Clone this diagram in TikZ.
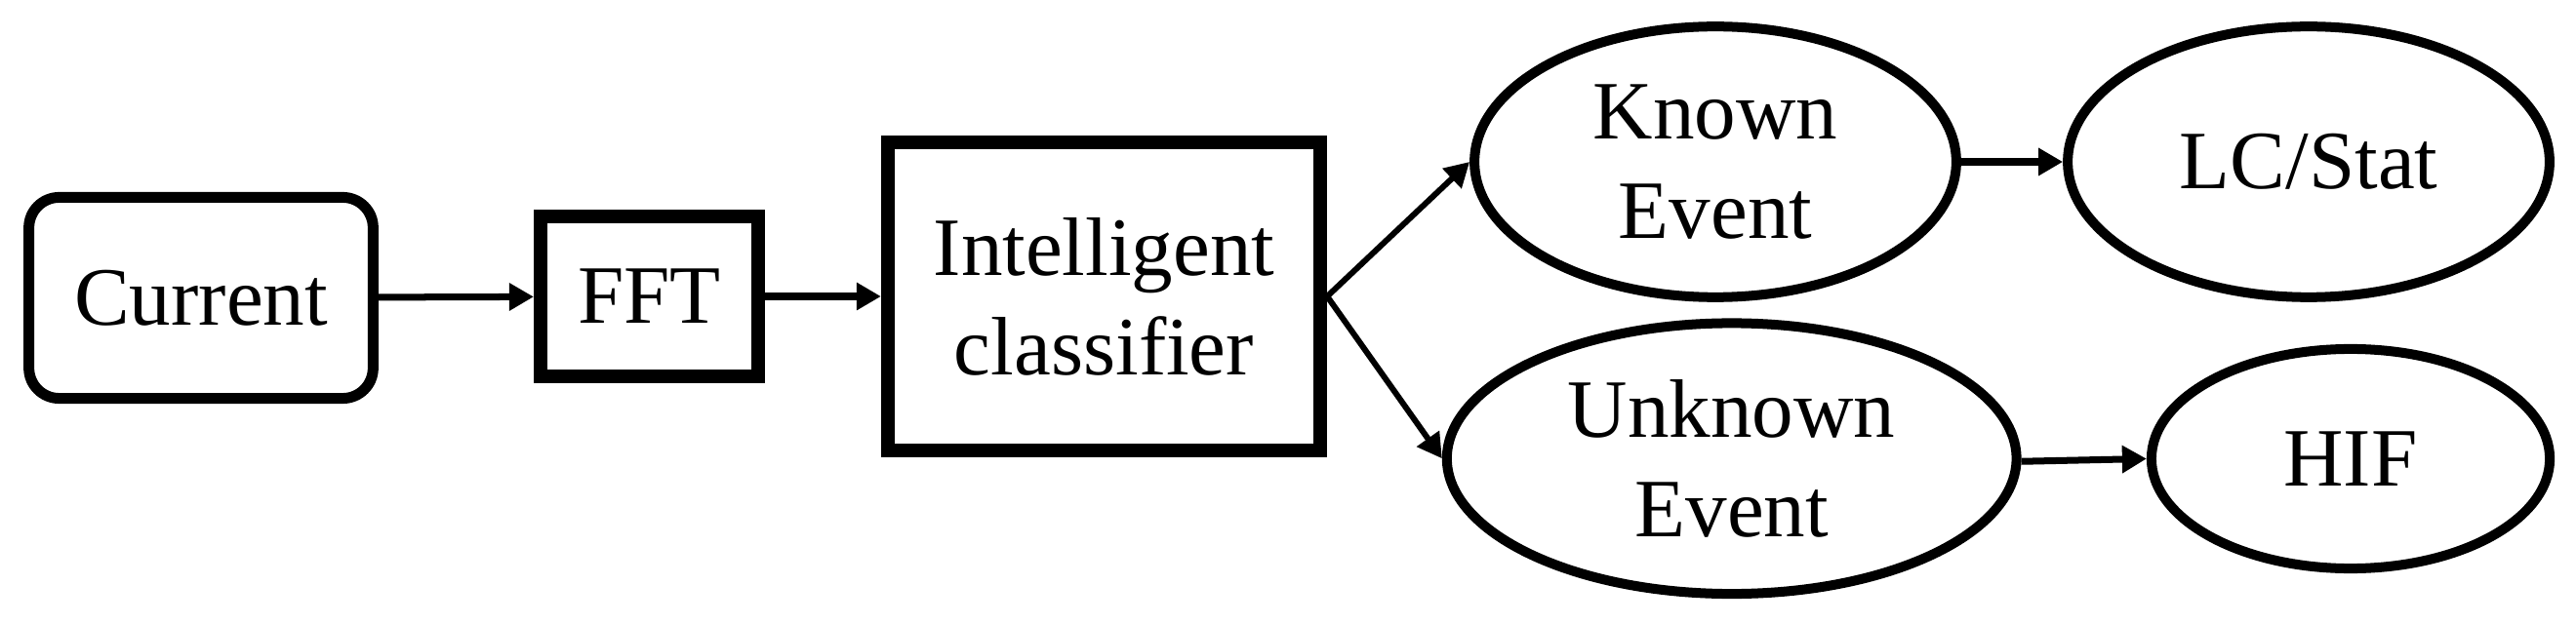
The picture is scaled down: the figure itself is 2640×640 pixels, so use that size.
\documentclass[tikz,border=0pt]{standalone}
\usepackage{fontspec}
\setmainfont{Liberation Serif}
\usetikzlibrary{arrows.meta,shapes.geometric}
\begin{document}
\begin{tikzpicture}[x=0.01cm,y=-0.01cm,
  every node/.style={font=\fontsize{24.19pt}{29.03pt}\selectfont, inner sep=0pt, align=center},
  boxnode/.style={draw, rectangle, line width=0.14cm},
  roundnode/.style={draw, rectangle, rounded corners=0.31cm, line width=0.11cm},
  ellnode/.style={draw, ellipse, line width=0.10cm},
  arr/.style={-{Triangle[length=0.25cm,width=0.27cm]}, line width=0.07cm}]
\useasboundingbox (0,0) rectangle (2640,640);
\node[roundnode, minimum width=3.525cm, minimum height=2.06cm] (current) at (206,305.5) {Current};
\node[boxnode, minimum width=2.23cm, minimum height=1.64cm] (fft) at (665.5,304) {FFT};
\node[boxnode, minimum width=4.43cm, minimum height=3.16cm] (ic) at (1131.5,304) {Intelligent\\classifier};
\node[ellnode, minimum width=4.935cm, minimum height=2.775cm] (known) at (1758,166) {Known\\Event};
\node[ellnode, minimum width=4.935cm, minimum height=2.775cm] (lc) at (2366,166) {LC/Stat};
\node[ellnode, minimum width=5.834cm, minimum height=2.775cm] (unknown) at (1774.7,470.25) {Unknown\\Event};
\node[ellnode, minimum width=4.08cm, minimum height=2.25cm] (hif) at (2409,470.5) {HIF};
\draw[arr] (current) -- (fft);
\draw[arr] (fft) -- (ic);
\draw[arr, line width=0.06cm] (ic.east) -- (known.west);
\draw[arr, line width=0.06cm] (ic.east) -- (unknown.west);
\draw[arr, line width=0.085cm] (known) -- (lc);
\draw[arr] ([yshift=-0.03cm]unknown.east) -- (hif.west);
\end{tikzpicture}
\end{document}
